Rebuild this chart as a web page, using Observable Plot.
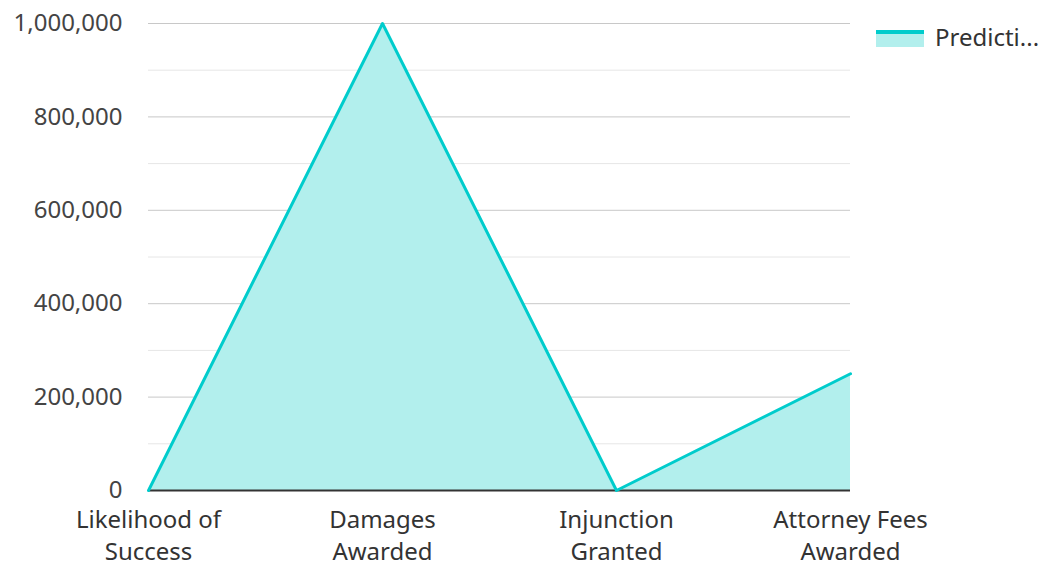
<!DOCTYPE html>
<html>
<head>
<meta charset="utf-8">
<script src="https://cdn.jsdelivr.net/npm/d3@7"></script>
<script src="https://cdn.jsdelivr.net/npm/@observablehq/plot@0.6"></script>
<style>
  html, body { margin: 0; padding: 0; background: #fff; }
  #wrap { position: relative; width: 1044px; height: 562px; font-family: "Noto Sans", sans-serif; }
  #legend { position: absolute; left: 876px; top: 20px; display: flex; align-items: center; font-size: 24px; color: #333; white-space: nowrap; }
  #legend .sw { width: 48px; height: 17px; background: #b2efed; border-top: 4px solid #00cccc; box-sizing: border-box; margin-right: 11px; margin-top: 3px; }
</style>
</head>
<body>
<div id="wrap"><div id="legend"><div class="sw"></div><span>Predicti...</span></div></div>
<script>
const categories = ["Likelihood of Success", "Damages Awarded", "Injunction Granted", "Attorney Fees Awarded"];
const categoryLabels = ["Likelihood of\nSuccess", "Damages\nAwarded", "Injunction\nGranted", "Attorney Fees\nAwarded"];
const values = [0, 1000000, 0, 250000];
const majorTicks = [0, 200000, 400000, 600000, 800000, 1000000];
const minorTicks = [100000, 300000, 500000, 700000, 900000];
const seriesName = "Prediction";

const data = categories.map((c, i) => ({category: c, value: values[i]}));
const labelOf = new Map(categories.map((c, i) => [c, categoryLabels[i]]));

const chart = Plot.plot({
  width: 1044,
  height: 562,
  marginLeft: 148,
  marginRight: 194,
  marginTop: 23,
  marginBottom: 72,
  style: {fontFamily: "Noto Sans, sans-serif", fontSize: "24px", color: "#333", background: "#fff", overflow: "visible"},
  x: {type: "point", domain: categories, padding: 0, label: null},
  y: {domain: [0, 1000000], label: null},
  marks: [
    Plot.ruleY(minorTicks, {stroke: "#e6e6e6", strokeWidth: 1}),
    Plot.ruleY(majorTicks, {stroke: "#c8c8c8", strokeWidth: 1}),
    Plot.areaY(data, {x: "category", y: "value", fill: "#b2efed"}),
    Plot.ruleY([0], {stroke: "#333", strokeWidth: 2}),
    Plot.lineY(data, {x: "category", y: "value", stroke: "#00cccc", strokeWidth: 3}),
    Plot.axisY({ticks: majorTicks, tickSize: 0, tickPadding: 26, tickFormat: d3.format(","), fontSize: 24, fill: "#444", label: null}),
    Plot.axisX({tickSize: 0, tickPadding: 15, tickFormat: d => labelOf.get(d), lineHeight: 1.33, fontSize: 24, fill: "#333", label: null})
  ]
});
document.getElementById("wrap").prepend(chart);
</script>
</body>
</html>
